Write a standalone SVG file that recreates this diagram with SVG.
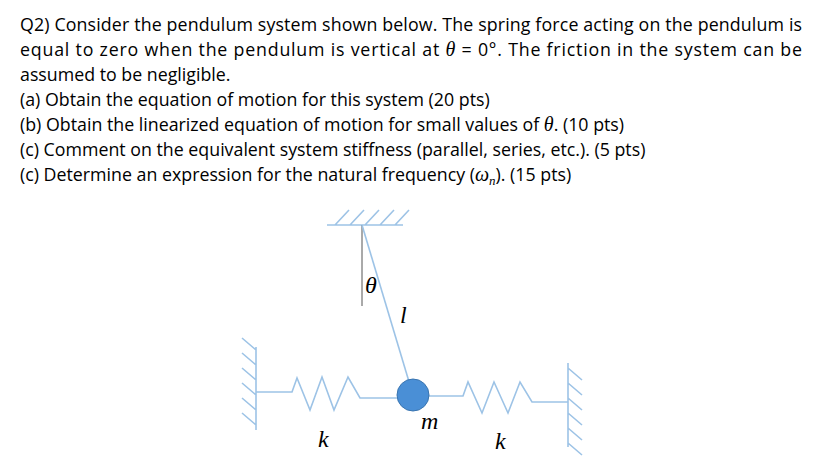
<svg xmlns="http://www.w3.org/2000/svg" width="839" height="465" viewBox="0 0 839 465">
<style>
.t{font-family:"Open Sans","Liberation Sans",sans-serif;font-size:17.8px;fill:#000}
.m{font-family:"Liberation Serif",serif;font-style:italic;font-size:24px;fill:#000}
.b{stroke:#9dc3e6;stroke-width:1.6;fill:none}
</style>
<rect width="839" height="465" fill="#fff"/>
<g id="question">
<text class="t" x="20" y="31" textLength="782" lengthAdjust="spacing">Q2) Consider the pendulum system shown below. The spring force acting on the pendulum is</text>
<text class="t" x="20" y="56" textLength="782" lengthAdjust="spacing">equal to zero when the pendulum is vertical at <tspan font-family="Liberation Serif" font-style="italic" font-size="20">θ</tspan> = 0°. The friction in the system can be</text>
<text class="t" x="20" y="81">assumed to be negligible.</text>
<text class="t" x="20" y="106">(a) Obtain the equation of motion for this system (20 pts)</text>
<text class="t" x="20" y="131">(b) Obtain the linearized equation of motion for small values of <tspan font-family="Liberation Serif" font-style="italic" font-size="20">θ</tspan>. (10 pts)</text>
<text class="t" x="20" y="156">(c) Comment on the equivalent system stiffness (parallel, series, etc.). (5 pts)</text>
<text class="t" x="20" y="181">(c) Determine an expression for the natural frequency (<tspan font-family="Liberation Serif" font-style="italic" font-size="20">ω</tspan><tspan font-family="Liberation Serif" font-style="italic" font-size="13" dy="4">n</tspan><tspan dy="-4">). (15 pts)</tspan></text>
</g>
<g id="ceiling">
<path class="b" d="M327 225H403M335 225l14-15M350 225l14-15M365 225l14-15M380 225l14-15M395 225l14-15"/>
</g>
<g id="pendulum">
<line x1="362" y1="225" x2="362" y2="306" stroke="#555" stroke-width="1"/>
<line class="b" x1="362" y1="225" x2="413" y2="395"/>
<text class="m" x="365" y="293">θ</text>
<text class="m" x="400" y="323">l</text>
</g>
<g id="left-wall">
<path class="b" d="M256 347V430M256 350l-14-12M256 365l-14-12M256 380l-14-12M256 395l-14-12M256 410l-14-12M256 425l-14-12"/>
</g>
<g id="right-wall">
<path class="b" d="M568 363V447M568 368l14 12M568 383l14 12M568 398l14 12M568 413l14 12M568 428l14 12M568 443l14 12"/>
</g>
<g id="connectors">
<path class="b" d="M256 392H292L297 378L310 410L322 377L334 410L348 377L360 398H398"/>
<path class="b" d="M428 396H463L468 382L482 413L494 382L508 413L520 382L532 402H568"/>
</g>
<g id="mass">
<circle cx="413" cy="395" r="16" fill="#4a8fd6" stroke="#3a75b0" stroke-width="1"/>
<text class="m" x="421" y="429">m</text>
</g>
<text class="m" x="318" y="447">k</text>
<text class="m" x="495" y="449">k</text>
</svg>
